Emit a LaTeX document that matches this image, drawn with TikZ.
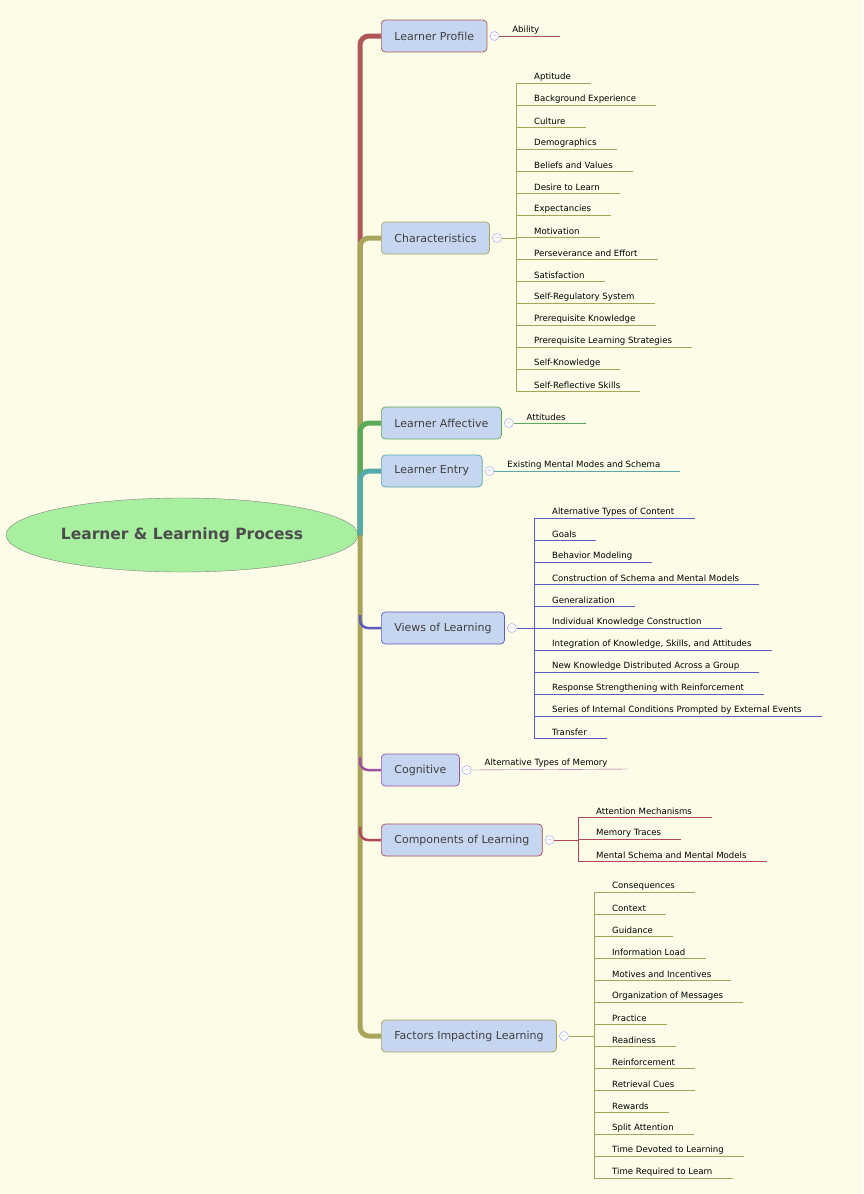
\documentclass[tikz,border=0pt]{standalone}
\usepackage{fontspec}
\setmainfont{DejaVu Sans}
\usetikzlibrary{shapes.geometric}
\begin{document}
\begin{tikzpicture}[x=1pt,y=-1pt,
  box/.style={draw,rounded corners=4pt,fill=boxfill,anchor=west,minimum height=32pt,inner xsep=13pt,font=\fontsize{11}{13}\selectfont,text=black!75,line width=0.7pt},
  leaf/.style={anchor=south west,inner xsep=0pt,inner ysep=2pt,font=\fontsize{8.6}{10}\selectfont},
  tog/.style={circle,draw=blue!40,fill=white,inner sep=0pt,minimum size=9pt,font=\fontsize{6}{6}\selectfont,text=blue!50}]
\definecolor{bg}{HTML}{FDFCE8}
\definecolor{boxfill}{HTML}{C6D6F0}
\definecolor{rootfill}{HTML}{A8F0A0}
\definecolor{cRed}{HTML}{B05858}
\definecolor{cOl}{HTML}{A8A55A}
\definecolor{cGr}{HTML}{5AAA5A}
\definecolor{cTe}{HTML}{55AAAA}
\definecolor{cPu}{HTML}{5C5CC0}
\definecolor{cMa}{HTML}{A050A0}
\definecolor{cCo}{HTML}{B04858}
\fill[bg] (0,0) rectangle (863,1194);
\useasboundingbox (0,0) rectangle (863,1194);
\coordinate (T) at (360,535);
% central
\node[ellipse,draw=black!50,fill=rootfill,minimum width=330pt,minimum height=74pt,font=\bfseries\fontsize{15.5}{18}\selectfont,text=black!70] (root) at (182,535) {Learner \& Learning Process};
\draw[black!60] (root.east) -- (T);
% trunk
\begin{scope}[line width=5pt,rounded corners=9pt]
\draw[cOl] (T) -- (360,1036) -- (381,1036);
\draw[cRed] (T) -- (360,36) -- (381,36);
\draw[cOl] (T) -- (360,238) -- (381,238);
\draw[cGr] (T) -- (360,423) -- (381,423);
\draw[cTe] (T) -- (360,471) -- (381,471);
\end{scope}
\begin{scope}[line width=2.5pt,rounded corners=8pt]
\draw[cPu] (360,615) -- (360,628) -- (381,628);
\draw[cMa] (360,757) -- (360,770) -- (381,770);
\draw[cCo] (360,827) -- (360,840) -- (381,840);
\end{scope}
% boxes
\node[box,draw=cRed] (lp) at (381,36) {Learner Profile};
\node[box,draw=cOl] (ch) at (381,238) {Characteristics};
\node[box,draw=cGr] (la) at (381,423) {Learner Affective};
\node[box,draw=cTe] (le) at (381,471) {Learner Entry};
\node[box,draw=cPu] (vl) at (381,628) {Views of Learning};
\node[box,draw=cMa] (cg) at (381,770) {Cognitive};
\node[box,draw=cCo] (cl) at (381,840) {Components of Learning};
\node[box,draw=cOl] (fi) at (381,1036) {Factors Impacting Learning};
% single leaves
\foreach \b/\c/\t/\y in {lp/cRed/Ability/36, la/cGr/Attitudes/423, le/cTe/Existing Mental Modes and Schema/471, cg/cMa/Alternative Types of Memory/769}{
  \node[tog] (t\b) at ([xshift=7pt]\b.east) {$-$};
  \node[leaf] (l\b) at ([xshift=13pt]t\b.east |- 0,\y) {\t};
  \draw[\c] (t\b.east) -- ([xshift=20pt]l\b.south east);
}
% multi leaves
\newcommand\leafgroup[5]{% node, color, bar x, first underline y, list
  \node[tog] (t#1) at ([xshift=7pt]#1.east) {$-$};
  \coordinate (bar#1) at (#3,0);
  \draw[#2] (t#1.east) -- (bar#1 |- t#1.east);
  \foreach \t [count=\i from 0] in {#5}{
    \pgfmathsetmacro\yy{#4+22*\i}
    \node[leaf] (#1-\i) at (#3+18,\yy) {\t};
    \draw[#2] (#3,\yy) -- ([xshift=20pt]#1-\i.south east);
    \xdef\lasty{\yy}
  }
  \draw[#2] (#3,#4) -- (#3,\lasty);
}
\leafgroup{ch}{cOl}{516}{83}{Aptitude,Background Experience,Culture,Demographics,Beliefs and Values,Desire to Learn,Expectancies,Motivation,Perseverance and Effort,Satisfaction,Self-Regulatory System,Prerequisite Knowledge,Prerequisite Learning Strategies,Self-Knowledge,Self-Reflective Skills}
\leafgroup{vl}{cPu}{534}{518}{Alternative Types of Content,Goals,Behavior Modeling,Construction of Schema and Mental Models,Generalization,Individual Knowledge Construction,{Integration of Knowledge, Skills, and Attitudes},New Knowledge Distributed Across a Group,Response Strengthening with Reinforcement,Series of Internal Conditions Prompted by External Events,Transfer}
\leafgroup{cl}{cCo}{578}{817}{Attention Mechanisms,Memory Traces,Mental Schema and Mental Models}
\leafgroup{fi}{cOl}{594}{892}{Consequences,Context,Guidance,Information Load,Motives and Incentives,Organization of Messages,Practice,Readiness,Reinforcement,Retrieval Cues,Rewards,Split Attention,Time Devoted to Learning,Time Required to Learn}
\end{tikzpicture}
\end{document}
